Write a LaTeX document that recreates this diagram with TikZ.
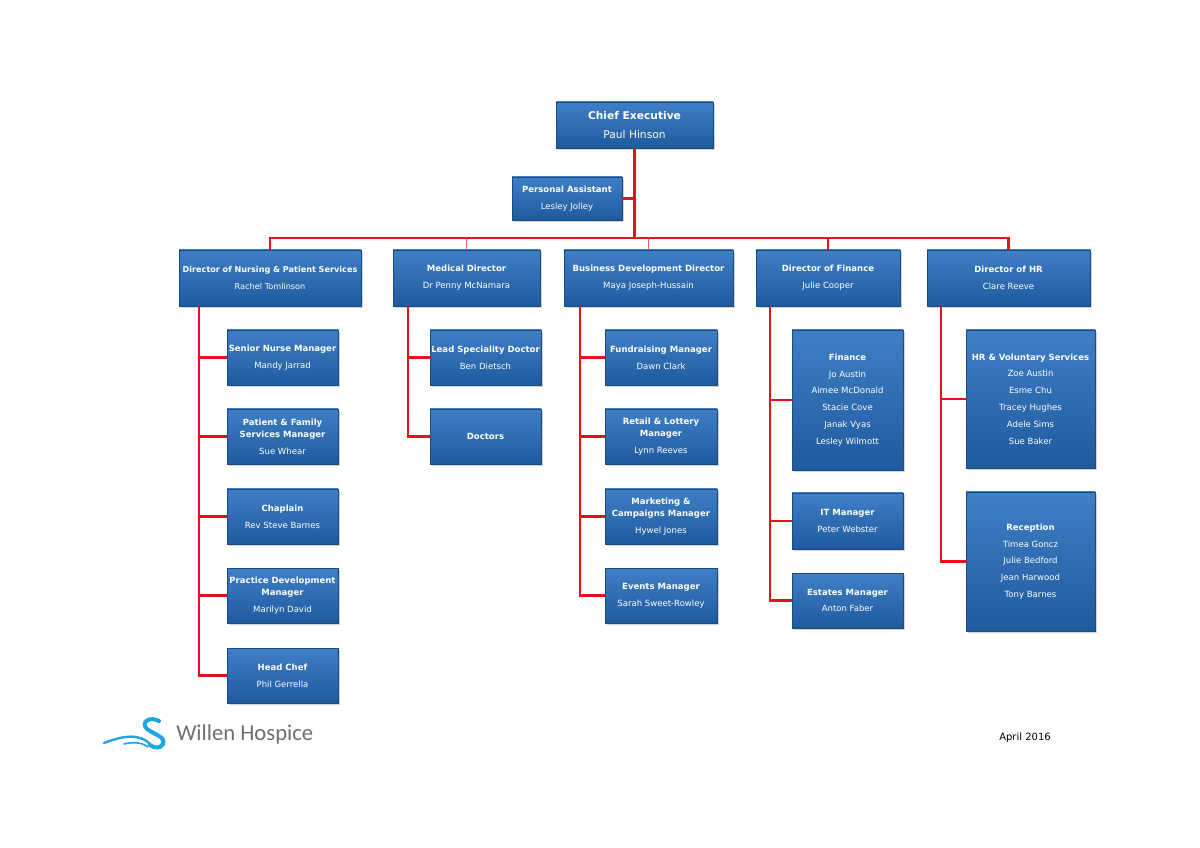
\documentclass[tikz,border=0pt]{standalone}
\usepackage{fontspec}
\setmainfont{DejaVu Sans}
\newfontfamily\logofont{Carlito}
\usetikzlibrary{shadows}
\definecolor{bxtop}{HTML}{3F7FC6}
\definecolor{bxbot}{HTML}{1F5A9E}
\definecolor{bxdraw}{HTML}{1A4A80}
\definecolor{rline}{HTML}{E8101A}
\definecolor{logoblue}{HTML}{1EA6E0}
\definecolor{logogray}{HTML}{6D6E70}
\tikzset{
  bx/.style={draw=bxdraw, line width=0.6pt, top color=bxtop, bottom color=bxbot,
    text=white, align=center, inner sep=0pt, font={\fontsize{6.4}{12.6}\selectfont},
    drop shadow={shadow xshift=1.2pt, shadow yshift=-1.5pt, opacity=0.35}},
  rl/.style={draw=rline, line width=2.2pt},
  rlt/.style={draw=rline!70, line width=0.8pt}
}
\begin{document}
\begin{tikzpicture}[x=0.75pt,y=-0.75pt]
\useasboundingbox (0,0) rectangle (1200,848);
% top
\node[bx, minimum width=117.75pt, minimum height=34.5pt, font={\fontsize{8}{14.5}\selectfont}] (ceo) at (634.5,125) {\textbf{Chief Executive}\\Paul Hinson};
\node[bx, minimum width=82.5pt, minimum height=32.25pt] (pa) at (567,198.5) {\textbf{Personal Assistant}\\Lesley Jolley};
% directors
\node[bx, minimum width=136.5pt, minimum height=42pt, text width=136.5pt, font={\fontsize{6.1}{12.6}\selectfont}] (nurs) at (270,278) {\textbf{Director of Nursing \& Patient Services}\\Rachel Tomlinson};
\node[bx, minimum width=110.25pt, minimum height=42pt] (med) at (466.5,278) {\textbf{Medical Director}\\Dr Penny McNamara};
\node[bx, minimum width=126.75pt, minimum height=42pt] (bus) at (648.5,278) {\textbf{Business Development Director}\\Maya Joseph-Hussain};
\node[bx, minimum width=108pt, minimum height=42pt] (fin) at (828,278) {\textbf{Director of Finance}\\Julie Cooper};
\node[bx, minimum width=122.25pt, minimum height=42pt] (hr) at (1008.5,278) {\textbf{Director of HR}\\Clare Reeve};
% nursing children
\node[bx, minimum width=83.25pt, minimum height=41.25pt] (sn) at (282.5,357.5) {\textbf{Senior Nurse Manager}\\Mandy Jarrad};
\node[bx, minimum width=83.25pt, minimum height=41.25pt] (pf) at (282.5,436.5) {\textbf{Patient \& Family}\\[-3.5pt]\textbf{Services Manager}\\Sue Whear};
\node[bx, minimum width=83.25pt, minimum height=41.25pt] (ch) at (282.5,516.5) {\textbf{Chaplain}\\Rev Steve Barnes};
\node[bx, minimum width=83.25pt, minimum height=41.25pt] (pd) at (282.5,595.5) {\textbf{Practice Development}\\[-3.5pt]\textbf{Manager}\\Marilyn David};
\node[bx, minimum width=83.25pt, minimum height=41.25pt] (hc) at (282.5,675.5) {\textbf{Head Chef}\\Phil Gerrella};
% medical children
\node[bx, minimum width=83.25pt, minimum height=41.25pt] (ls) at (485.5,357.5) {\textbf{Lead Speciality Doctor}\\Ben Dietsch};
\node[bx, minimum width=83.25pt, minimum height=41.25pt] (doc) at (485.5,436.5) {\textbf{Doctors}};
% business children
\node[bx, minimum width=84pt, minimum height=41.25pt] (fr) at (661,357.5) {\textbf{Fundraising Manager}\\Dawn Clark};
\node[bx, minimum width=84pt, minimum height=41.25pt] (rt) at (661,436.5) {\textbf{Retail \& Lottery}\\[-3.5pt]\textbf{Manager}\\Lynn Reeves};
\node[bx, minimum width=84pt, minimum height=41.25pt] (mk) at (661,516.5) {\textbf{Marketing \&}\\[-3.5pt]\textbf{Campaigns Manager}\\Hywel Jones};
\node[bx, minimum width=84pt, minimum height=41.25pt] (ev) at (661,595.5) {\textbf{Events Manager}\\Sarah Sweet-Rowley};
% finance children
\node[bx, minimum width=83.25pt, minimum height=105pt] (fb) at (847.5,400) {\textbf{Finance}\\Jo Austin\\Aimee McDonald\\Stacie Cove\\Janak Vyas\\Lesley Wilmott};
\node[bx, minimum width=83.25pt, minimum height=42pt] (it) at (847.5,521) {\textbf{IT Manager}\\Peter Webster};
\node[bx, minimum width=83.25pt, minimum height=41.25pt] (es) at (847.5,600.5) {\textbf{Estates Manager}\\Anton Faber};
% HR children
\node[bx, minimum width=96.75pt, minimum height=103.5pt] (hv) at (1030.5,399) {\textbf{HR \& Voluntary Services}\\Zoe Austin\\Esme Chu\\Tracey Hughes\\Adele Sims\\Sue Baker};
\node[bx, minimum width=96.75pt, minimum height=104.25pt] (rc) at (1030.5,561.5) {\textbf{Reception}\\Timea Goncz\\Julie Bedford\\Jean Harwood\\Tony Barnes};
% connectors
\coordinate (bar) at (0,238);
\draw[rl] (ceo.south) -- (ceo.south |- bar);
\draw[rl] (pa.east) -- (pa.east -| ceo.south);
\draw[rl] (nurs.north) -- (nurs.north |- bar) -- (hr.north |- bar) -- (hr.north);
\draw[rl] (fin.north) -- (fin.north |- bar);
\draw[rlt] (med.north) -- (med.north |- bar);
\draw[rlt] (bus.north) -- (bus.north |- bar);
\coordinate (nl) at (199,306);
\coordinate (ml) at (408,306);
\coordinate (bl) at (580,306);
\coordinate (fl) at (770,306);
\coordinate (hl) at (941,306);
\draw[rl] (nl) |- (hc.west);
\foreach \n in {sn,pf,ch,pd} \draw[rl] (nl |- \n.west) -- (\n.west);
\draw[rl] (ml) |- (doc.west);
\draw[rl] (ml |- ls.west) -- (ls.west);
\draw[rl] (bl) |- (ev.west);
\foreach \n in {fr,rt,mk} \draw[rl] (bl |- \n.west) -- (\n.west);
\draw[rl] (fl) |- (es.west);
\foreach \n in {fb,it} \draw[rl] (fl |- \n.west) -- (\n.west);
\draw[rl] (hl) |- (rc.west);
\draw[rl] (hl |- hv.west) -- (hv.west);
% logo
\node[text=logogray, anchor=west, inner sep=0pt, font={\logofont\fontsize{17}{17}\selectfont}] (logo) at (176,734) {Willen Hospice};
\draw[logoblue, line width=3pt, line cap=round] (159,721) .. controls (150,716) and (140,722) .. (147,729) .. controls (155,735) and (166,737) .. (163,744) .. controls (160,749) and (154,748) .. (150,745);
\draw[logoblue, line width=1.8pt, line cap=round] (104,743) .. controls (120,737) and (138,732) .. (150,744);
\draw[logoblue, line width=1.2pt, line cap=round] (124,744) .. controls (132,742) and (142,742) .. (148,747);
\node[inner sep=0pt, font={\fontsize{7.5}{9}\selectfont}] (date) at (1025,738) {April 2016};
\end{tikzpicture}
\end{document}
